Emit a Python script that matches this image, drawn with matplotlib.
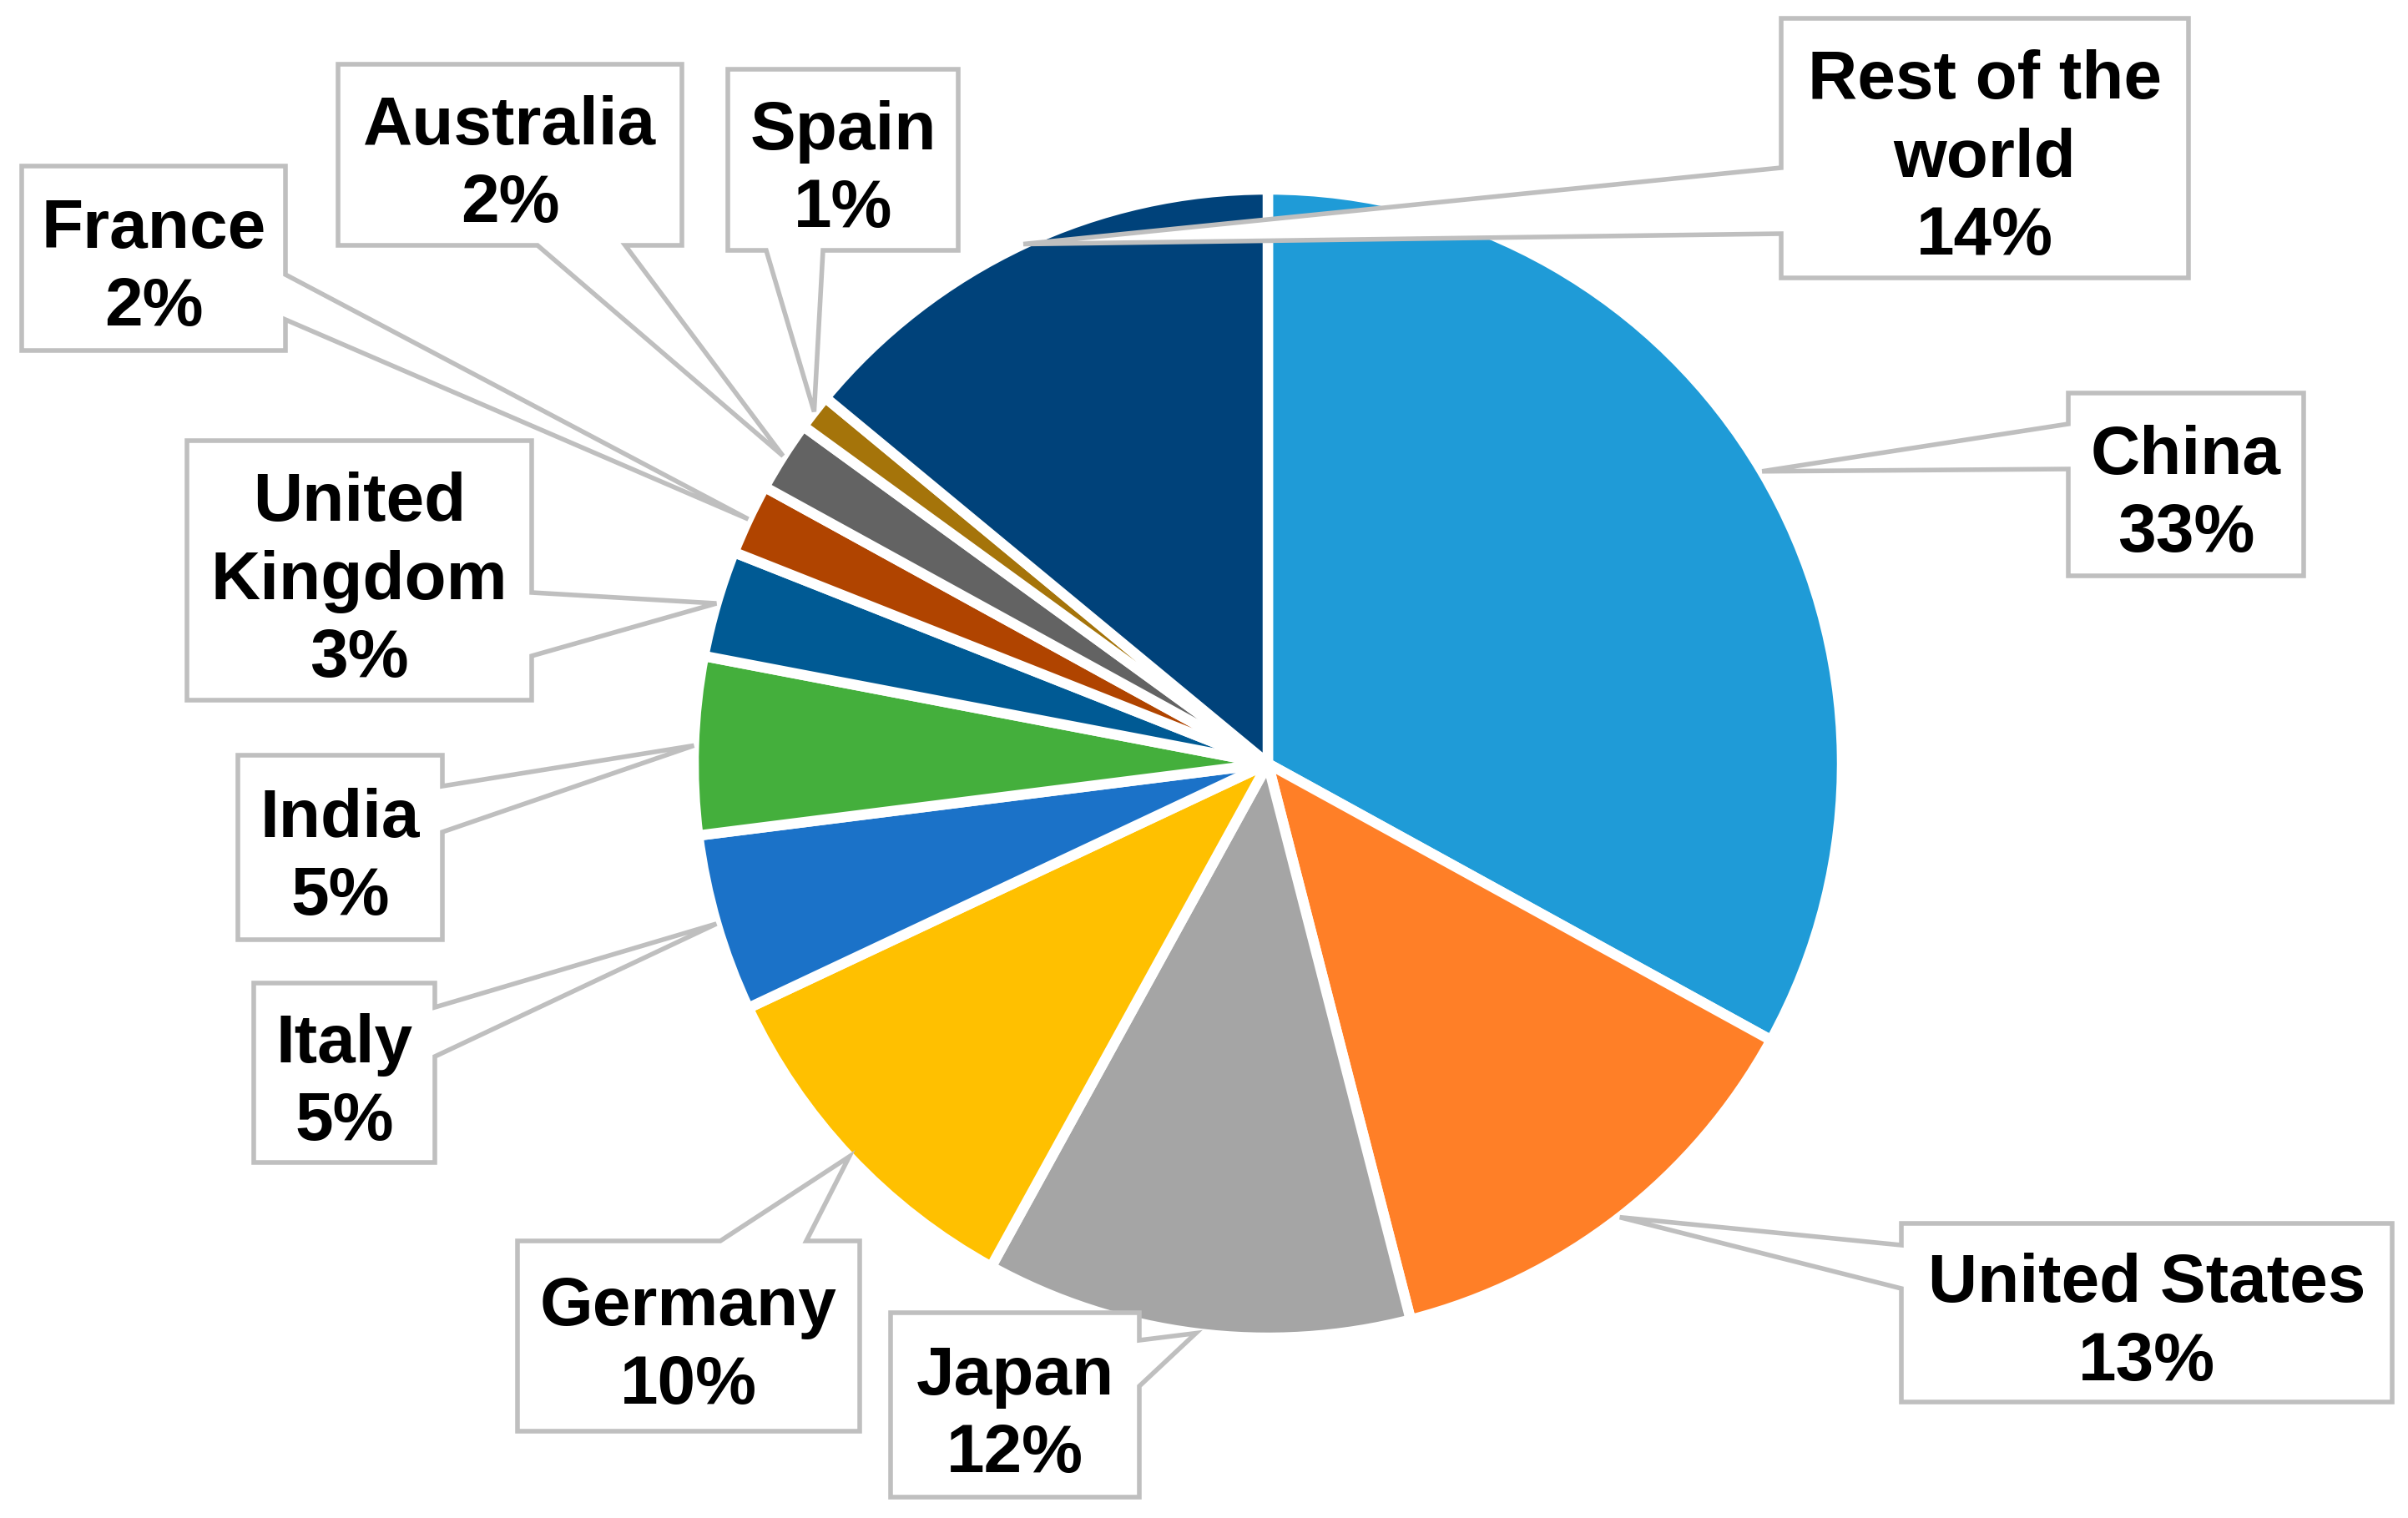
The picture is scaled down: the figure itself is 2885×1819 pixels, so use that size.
import matplotlib.pyplot as plt
from matplotlib.patches import Polygon
import numpy as np

countries = ['China', 'United States', 'Japan', 'Germany', 'Italy', 'India',
             'United Kingdom', 'France', 'Australia', 'Spain', 'Rest of the world']
shares = [33, 13, 12, 10, 5, 5, 3, 2, 2, 1, 14]
box_text = ['China', 'United States', 'Japan', 'Germany', 'Italy', 'India',
            'United\nKingdom', 'France', 'Australia', 'Spain', 'Rest of the\nworld']
colors = ['#1F9BD7', '#FF7F27', '#A5A5A5', '#FFC000', '#1B72C8', '#44AF3C',
          '#005A94', '#B04400', '#636363', '#A5740A', '#00427A']

W, H = 2885, 1819
CX, CY, R = 1519, 915, 688

# callout boxes in pixels from top-left: (left, top, right, bottom), pointer side, pointer base
callouts = [
    ((2478, 471, 2760, 690), 'left', (508, 562)),      # China
    ((2278, 1466, 2866, 1680), 'left', (1492, 1544)),  # United States
    ((1067, 1573, 1365, 1794), 'right', (1606, 1661)), # Japan
    ((620, 1487, 1030, 1715), 'top', (863, 966)),      # Germany
    ((304, 1178, 521, 1393), 'right', (1207, 1266)),   # Italy
    ((285, 905, 530, 1126), 'right', (942, 997)),      # India
    ((224, 528, 637, 839), 'right', (710, 786)),       # United Kingdom
    ((26, 199, 342, 420), 'right', (329, 383)),        # France
    ((405, 77, 817, 294), 'bottom', (644, 749)),       # Australia
    ((872, 83, 1148, 300), 'bottom', (918, 986)),      # Spain
    ((2134, 22, 2622, 333), 'left', (201, 280)),       # Rest of the world
]


def callout_shape(box, side, base, tip):
    l, t, r, b = box
    a1, a2 = base
    tl, tr, br, bl = (l, t), (r, t), (r, b), (l, b)
    if side == 'top':
        pts = [tl, (a1, t), tip, (a2, t), tr, br, bl]
    elif side == 'right':
        pts = [tl, tr, (r, a1), tip, (r, a2), br, bl]
    elif side == 'bottom':
        pts = [tl, tr, br, (a2, b), tip, (a1, b), bl]
    else:
        pts = [tl, tr, br, bl, (l, a2), tip, (l, a1)]
    return [(x, H - y) for x, y in pts]


fig = plt.figure(figsize=(W / 100, H / 100), dpi=100)
ax = fig.add_axes([0, 0, 1, 1])

wedges, _ = ax.pie(shares, colors=colors, startangle=90, counterclock=False,
                   center=(CX, H - CY), radius=R,
                   wedgeprops=dict(edgecolor='white', linewidth=9, joinstyle='bevel'))
ax.set_xlim(0, W)
ax.set_ylim(0, H)
ax.set_aspect('equal')
ax.axis('off')

for w, name, pct, (box, side, base) in zip(wedges, box_text, shares, callouts):
    mid = np.deg2rad((w.theta1 + w.theta2) / 2)
    tip_x = CX + R * np.cos(mid)
    tip_y = CY - R * np.sin(mid)
    shape = Polygon(callout_shape(box, side, base, (tip_x, tip_y)), closed=True,
                    facecolor='white', edgecolor='#BFBFBF', linewidth=4,
                    joinstyle='miter', zorder=5)
    ax.add_patch(shape)
    l, t, r, b = box
    ax.text((l + r) / 2, H - (t + b) / 2 - 13, f"{name}\n{pct}%", ha='center', va='center',
            fontsize=59, fontweight='bold', family='Liberation Sans',
            linespacing=1.3, zorder=6)

fig.savefig('out.png', dpi=100)
